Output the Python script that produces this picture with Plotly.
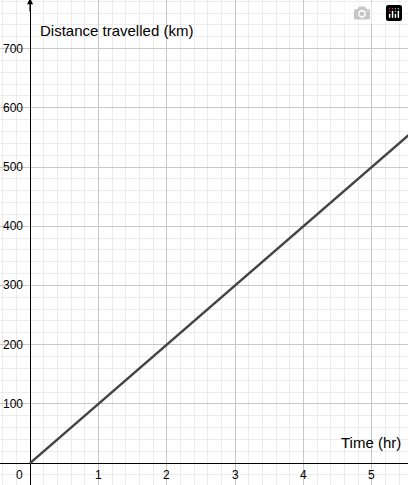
import plotly.graph_objects as go

# distance = 100 km/h * time
time_hr = [0, 5.6]
distance_km = [0, 560]

x_ticks = [1, 2, 3, 4, 5]
y_ticks = [100, 200, 300, 400, 500, 600, 700]

fig = go.Figure()
fig.add_trace(go.Scatter(x=time_hr, y=distance_km, mode='lines',
                         line=dict(color='#444444', width=2.5), showlegend=False))

ann = []
for t in x_ticks:
    ann.append(dict(x=t, y=0, text=str(t), showarrow=False, yshift=-12, font=dict(size=12, color='black')))
for d in y_ticks:
    ann.append(dict(x=0, y=d, text=str(d), showarrow=False, xanchor='right', xshift=-5, font=dict(size=12, color='black')))
ann.append(dict(x=0, y=0, text='0', showarrow=False, xanchor='right', xshift=-5, yshift=-12, font=dict(size=12, color='black')))
ann.append(dict(x=0.12, y=730, text='Distance travelled (km)', showarrow=False, xanchor='left', font=dict(size=15, color='black')))
ann.append(dict(x=5.45, y=35, text='Time (hr)', showarrow=False, xanchor='right', font=dict(size=15, color='black')))
# y axis arrowhead
ann.append(dict(x=0, y=785, ax=0, ay=760, axref='x', ayref='y', showarrow=True,
                arrowhead=2, arrowwidth=1.2, arrowcolor='black', text=''))

fig.update_layout(
    width=408, height=485, margin=dict(l=0, r=0, t=0, b=0),
    plot_bgcolor='white', paper_bgcolor='white',
    font=dict(family='Arial, Liberation Sans'),
    annotations=ann,
    xaxis=dict(range=[-0.44, 5.53], dtick=1, tick0=0, showticklabels=False,
               showgrid=True, gridcolor='#c8c8c8', gridwidth=1,
               minor=dict(dtick=0.2, showgrid=True, gridcolor='#ececec'),
               zeroline=True, zerolinecolor='black', zerolinewidth=1.2, fixedrange=True),
    yaxis=dict(range=[-37, 782], dtick=100, tick0=0, showticklabels=False,
               showgrid=True, gridcolor='#c8c8c8', gridwidth=1,
               minor=dict(dtick=20, showgrid=True, gridcolor='#ececec'),
               zeroline=True, zerolinecolor='black', zerolinewidth=1.2, fixedrange=True),
)

# drop the default page margin so the chart sits at the window's corner
fig.write_html("out.html", post_script="document.body.style.margin='0';document.body.style.overflow='hidden';")
